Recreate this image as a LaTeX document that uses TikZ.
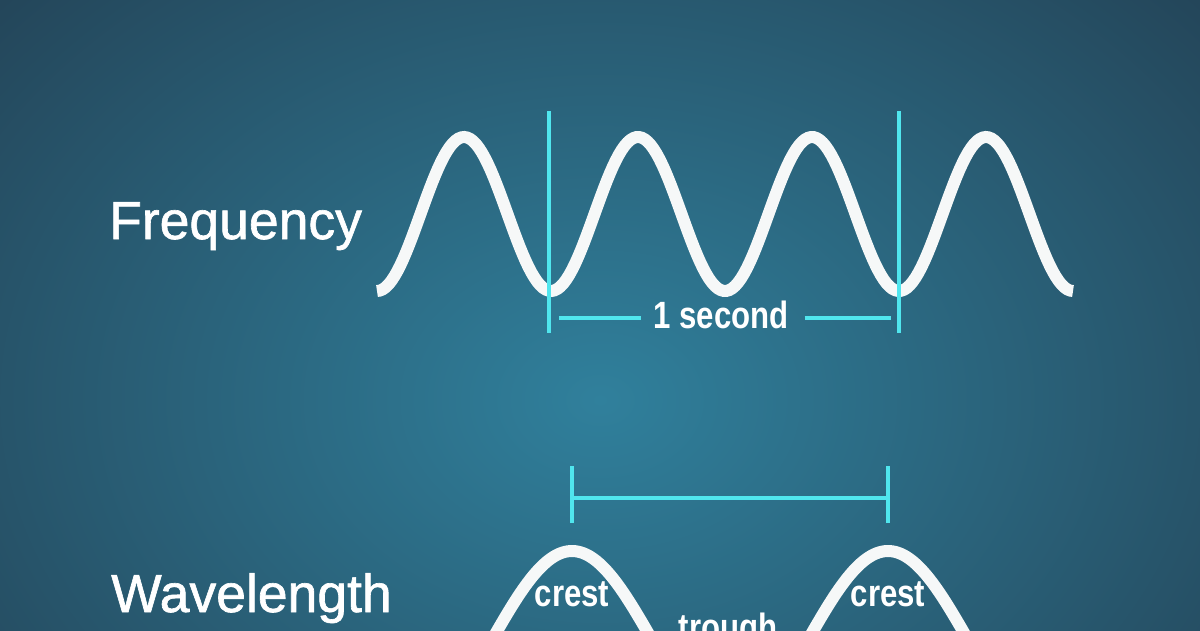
\documentclass[tikz,border=0pt]{standalone}
\usepackage{fontspec}
\setmainfont{Liberation Sans}
\newfontfamily\titlefont{Liberation Sans}[FakeBold=1.2]
\newfontfamily\labelfont{Liberation Sans}[FakeStretch=0.82]
\usetikzlibrary{positioning}
\definecolor{bginner}{HTML}{30809C}
\definecolor{bgouter}{HTML}{24465A}
\definecolor{wavewhite}{HTML}{F6F8F8}
\definecolor{markcyan}{HTML}{50E6EE}

\begin{document}
\begin{tikzpicture}[
    x=1pt, y=-1pt,
    wave/.style={line width=12pt, draw=wavewhite},
    marker/.style={line width=4pt, draw=markcyan},
    title/.style={anchor=base west, text=white, inner sep=0pt, font=\titlefont\fontsize{53.5}{60}\selectfont},
    tag/.style={anchor=base, text=white, inner sep=0pt, font=\labelfont\bfseries\fontsize{38}{44}\selectfont},
]

\useasboundingbox (0,0) rectangle (1200,630);
\clip (0,0) rectangle (1200,630);
\fill[inner color=bginner, outer color=bgouter] (-200,-200) rectangle (1400,1000);

% frequency
\node[title] (freq) at (109,239) {Frequency};
\draw[wave] plot[domain=377:1073, samples=240] (\x, {214+77*cos((\x-377)/174*360)});

\coordinate (ltop) at (549,111);
\coordinate (lbot) at (549,333);
\coordinate (rtop) at (899,111);
\coordinate (rbot) at (899,333);
\draw[marker] (ltop) -- (lbot);
\draw[marker] (rtop) -- (rbot);

\node[tag] (sec) at (721,328) {1 second};
\coordinate (secl) at (559,318);
\coordinate (secr) at (891,318);
\draw[marker] (secl) -- ([xshift=-12pt]sec.west |- secl);
\draw[marker] ([xshift=16pt]sec.east |- secr) -- (secr);

% wavelength
\node[title] (wlen) at (111,612) {Wavelength};
\draw[wave] plot[domain=414:1046, samples=240] (\x, {638-87*cos((\x-572)/316*360)});

\coordinate (blft) at (572,498);
\coordinate (brgt) at (888,498);
\draw[marker] (blft) -- (brgt);
\draw[marker] ([yshift=-25pt]blft) -- ([yshift=32pt]blft);
\draw[marker] ([yshift=-25pt]brgt) -- ([yshift=32pt]brgt);

\node[tag] (crestl) at (572,606) {crest};
\node[tag] (crestr) at (888,606) {crest};
\node[tag] (trough) at (728,640) {trough};

\end{tikzpicture}
\end{document}
